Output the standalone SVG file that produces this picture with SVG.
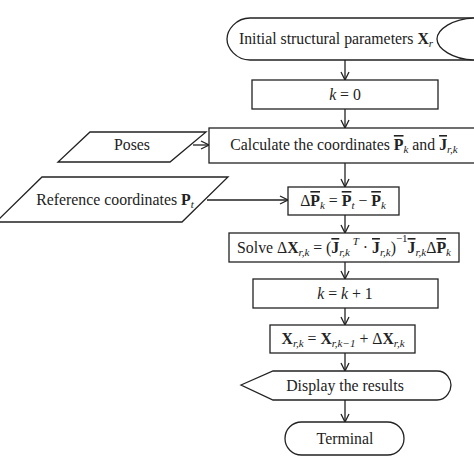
<svg xmlns="http://www.w3.org/2000/svg" width="474" height="474" viewBox="0 0 474 474">
<style>
.s{fill:#fff;stroke:#222;stroke-width:1.3}
.t{font-family:"Liberation Serif","Times New Roman",serif;font-size:15.8px;fill:#222;text-anchor:middle}
.i{font-style:italic}
.b{font-weight:bold}
.sub{font-size:11px}
.o{text-decoration:overline}
.c{stroke:#222;stroke-width:1.3;fill:none}
</style>
<defs>
<marker id="a" markerWidth="10" markerHeight="10" refX="9" refY="5" orient="auto" markerUnits="userSpaceOnUse">
<path d="M1,1 L9,5 L1,9" fill="none" stroke="#222" stroke-width="1.3"/>
</marker>
</defs>
<rect width="474" height="474" fill="#fff"/>
<g id="connectors" class="c">
<line x1="345" y1="60" x2="345" y2="80" marker-end="url(#a)"/>
<line x1="345" y1="109" x2="345" y2="128" marker-end="url(#a)"/>
<line x1="193" y1="145" x2="209" y2="145" marker-end="url(#a)"/>
<line x1="345" y1="163" x2="345" y2="187" marker-end="url(#a)"/>
<line x1="207" y1="200" x2="288" y2="200" marker-end="url(#a)"/>
<line x1="345" y1="215" x2="345" y2="233" marker-end="url(#a)"/>
<line x1="345" y1="262" x2="345" y2="279" marker-end="url(#a)"/>
<line x1="345" y1="308" x2="345" y2="325" marker-end="url(#a)"/>
<line x1="345" y1="353" x2="345" y2="371" marker-end="url(#a)"/>
<line x1="345" y1="400" x2="345" y2="422" marker-end="url(#a)"/>
</g>
<g id="init">
<path class="s" d="M478 18 H250 C236 18 227 30 227 39 C227 48 236 60 250 60 H478 Z"/>
<path class="s" d="M476 18 C452 18 437 30 437 39 C437 48 452 60 476 60"/>
<text class="t" x="336" y="44">Initial structural parameters <tspan class="b">X</tspan><tspan class="sub i" dy="3">r</tspan></text>
</g>
<g id="k0">
<rect class="s" x="252" y="80" width="186" height="29"/>
<text class="t" x="345" y="100"><tspan class="i">k</tspan> = 0</text>
</g>
<g id="poses">
<path class="s" d="M90 132 H206 L170 162 H58 Z"/>
<text class="t" x="132" y="150">Poses</text>
</g>
<g id="calc">
<rect class="s" x="209" y="128" width="270" height="35"/>
<text class="t" x="344" y="150">Calculate the coordinates <tspan class="b o">P</tspan><tspan class="sub i" dy="3">k</tspan><tspan dy="-3"> and </tspan><tspan class="b o">J</tspan><tspan class="sub i" dy="3">r,k</tspan></text>
</g>
<g id="ref">
<path class="s" d="M42 177 H228 L182 222 H-4 Z"/>
<text class="t" x="115" y="205">Reference coordinates <tspan class="b">P</tspan><tspan class="sub i" dy="3">t</tspan></text>
</g>
<g id="delta">
<rect class="s" x="288" y="187" width="111" height="28"/>
<text class="t" x="343" y="206">Δ<tspan class="b o">P</tspan><tspan class="sub i" dy="3">k</tspan><tspan dy="-3"> = </tspan><tspan class="b o">P</tspan><tspan class="sub i" dy="3">t</tspan><tspan dy="-3"> − </tspan><tspan class="b o">P</tspan><tspan class="sub i" dy="3">k</tspan></text>
</g>
<g id="solve">
<rect class="s" x="229" y="233" width="230" height="29"/>
<text class="t" x="344" y="253">Solve Δ<tspan class="b">X</tspan><tspan class="sub i" dy="3">r,k</tspan><tspan dy="-3"> = (</tspan><tspan class="b o">J</tspan><tspan class="sub i" dy="3">r,k</tspan><tspan class="sub i" dy="-11"> T</tspan><tspan dy="8"> · </tspan><tspan class="b o">J</tspan><tspan class="sub i" dy="3">r,k</tspan><tspan dy="-3">)</tspan><tspan class="sub" dy="-11">−1</tspan><tspan class="b o" dy="11">J</tspan><tspan class="sub i" dy="3">r,k</tspan><tspan dy="-3">Δ</tspan><tspan class="b o">P</tspan><tspan class="sub i" dy="3">k</tspan></text>
</g>
<g id="kinc">
<rect class="s" x="253" y="279" width="185" height="29"/>
<text class="t" x="345" y="299"><tspan class="i">k</tspan> = <tspan class="i">k</tspan> + 1</text>
</g>
<g id="update">
<rect class="s" x="270" y="325" width="145" height="28"/>
<text class="t" x="343" y="344"><tspan class="b">X</tspan><tspan class="sub i" dy="3">r,k</tspan><tspan dy="-3"> = </tspan><tspan class="b">X</tspan><tspan class="sub i" dy="3">r,k−1</tspan><tspan dy="-3"> + Δ</tspan><tspan class="b">X</tspan><tspan class="sub i" dy="3">r,k</tspan></text>
</g>
<g id="display">
<path class="s" d="M241 385 L273 371 H437 C447 371 451 380 451 385 C451 390 447 400 437 400 H273 Z"/>
<text class="t" x="345" y="391">Display the results</text>
</g>
<g id="terminal">
<rect class="s" x="285" y="422" width="119" height="33" rx="16.5"/>
<text class="t" x="345" y="444">Terminal</text>
</g>
</svg>
